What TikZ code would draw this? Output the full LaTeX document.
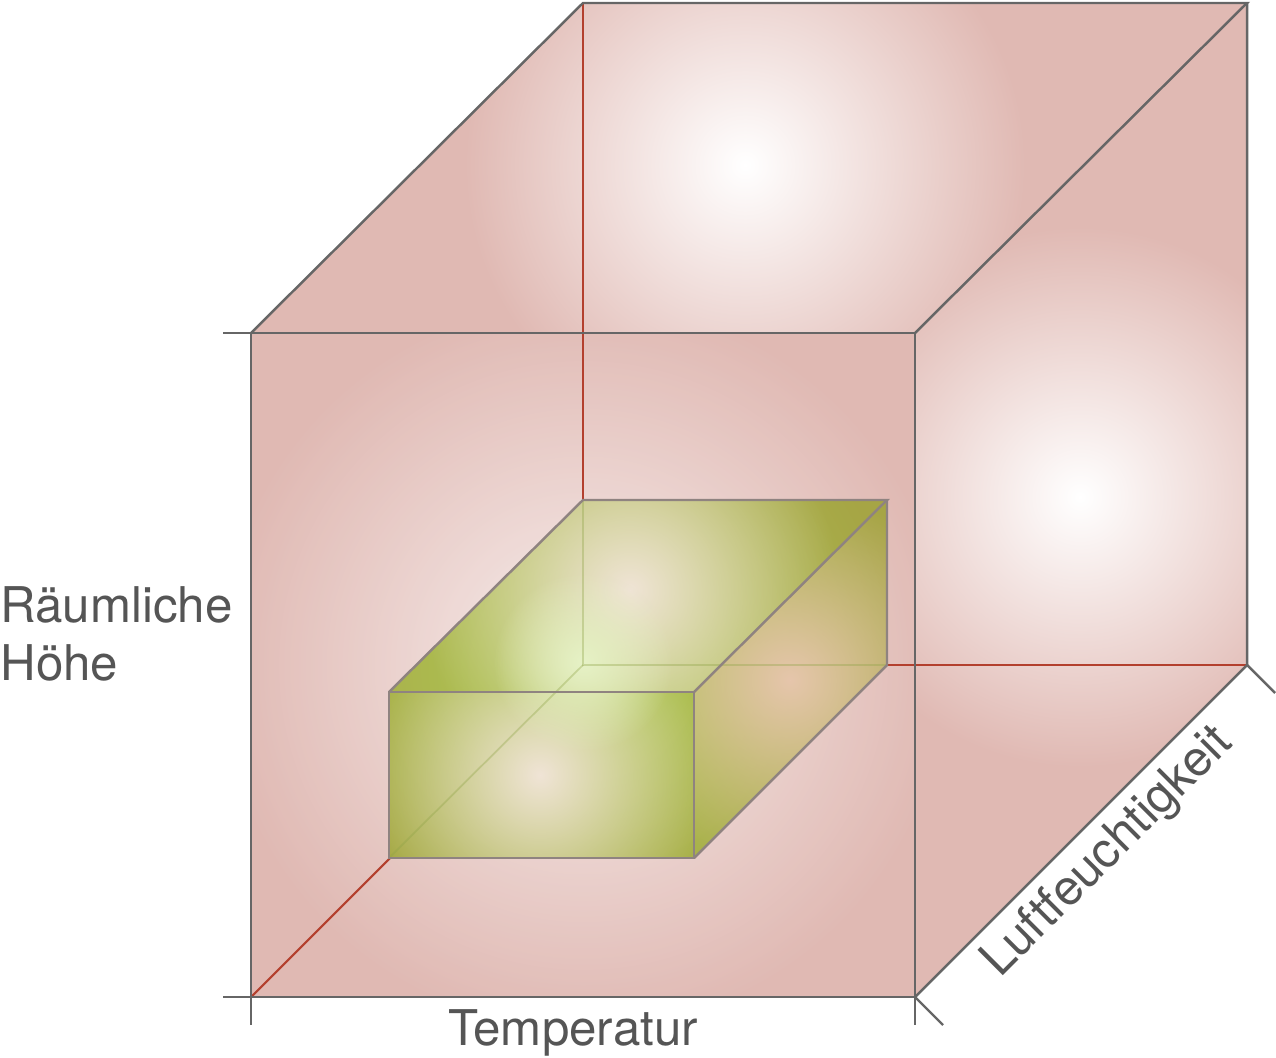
\documentclass[tikz,border=0pt]{standalone}
\usepackage{fontspec}
\setmainfont{TeX Gyre Heros}
\usetikzlibrary{fadings}
\definecolor{cubepink}{HTML}{E0B9B3}
\definecolor{cubeedge}{HTML}{666666}
\definecolor{hiddenred}{HTML}{B3402E}
\definecolor{boxolive}{HTML}{A6A545}
\definecolor{boxgreen}{HTML}{B1CC58}
\definecolor{boxcore}{HTML}{F0E4D6}
\definecolor{boxlime}{HTML}{E6F2C6}
\definecolor{boxpeach}{HTML}{E6C6AC}
\definecolor{boxline}{HTML}{8F8380}
\definecolor{labelgray}{HTML}{555555}
\tikzfading[name=glowfade, inner color=transparent!0, outer color=transparent!100]

\begin{document}
\begin{tikzpicture}[
  x=0.01cm,
  y=-0.01cm,
  every node/.style={font=\fontsize{14}{16.5}\selectfont, text=labelgray},
  cube edge/.style={draw=cubeedge, line width=0.7pt},
  hidden edge/.style={draw=hiddenred, line width=0.6pt},
  box edge/.style={draw=boxline, line width=0.7pt},
  box hidden/.style={draw=boxgreen!80!black, line width=0.5pt, opacity=0.35},
  axistick/.style={draw=cubeedge, line width=0.7pt},
  glow/.style={fill=#1, path fading=glowfade}
]
  \useasboundingbox (0,0) rectangle (1276,1058);

  % cube corners
  \coordinate (fbl) at (251,997);
  \coordinate (fbr) at (915,997);
  \coordinate (ftl) at (251,333);
  \coordinate (ftr) at (915,333);
  \coordinate (bbl) at (583,665);
  \coordinate (bbr) at (1247,665);
  \coordinate (btl) at (583,3);
  \coordinate (btr) at (1247,3);
  % box corners
  \coordinate (qbl) at (389,858);
  \coordinate (qbr) at (694,858);
  \coordinate (qtl) at (389,692);
  \coordinate (qtr) at (694,692);
  \coordinate (pbl) at (583,665);
  \coordinate (pbr) at (887,665);
  \coordinate (ptl) at (583,500);
  \coordinate (ptr) at (887,500);

  % cube body
  \fill[cubepink] (fbl) -- (ftl) -- (btl) -- (btr) -- (bbr) -- (fbr) -- cycle;
  \begin{scope}
    \clip (ftl) -- (btl) -- (btr) -- (ftr) -- cycle;
    \shade[inner color=white, outer color=cubepink] (745,165) circle (2.8cm);
  \end{scope}
  \begin{scope}
    \clip (ftr) -- (btr) -- (bbr) -- (fbr) -- cycle;
    \shade[inner color=white, outer color=cubepink] (1080,497) circle (2.7cm);
  \end{scope}
  \begin{scope}
    \clip (fbl) rectangle (ftr);
    \shade[inner color=white, outer color=cubepink, opacity=0.75] (583,665) circle (3.7cm);
  \end{scope}

  % hidden cube edges
  \draw[hidden edge] (btl) -- (bbl) -- (bbr);
  \draw[hidden edge] (bbl) -- (fbl);

  % inner box
  \fill[boxolive] (qbl) -- (qtl) -- (ptl) -- (ptr) -- (pbr) -- (qbr) -- cycle;
  \begin{scope}
    \clip (qbl) -- (qtl) -- (ptl) -- (ptr) -- (pbr) -- (qbr) -- cycle;
    \fill[glow=boxgreen] (585,665) circle (3.2cm);
  \end{scope}
  \begin{scope}
    \clip (qbl) rectangle (qtr);
    \fill[glow=boxcore] (540,775) circle (1.7cm);
  \end{scope}
  \begin{scope}
    \clip (qtl) -- (ptl) -- (ptr) -- (qtr) -- cycle;
    \fill[glow=boxcore] (630,590) circle (2.1cm);
  \end{scope}
  \begin{scope}
    \clip (qtr) -- (ptr) -- (pbr) -- (qbr) -- cycle;
    \fill[glow=boxpeach] (790,680) circle (1.9cm);
  \end{scope}
  \begin{scope}
    \clip (qbl) -- (qtl) -- (ptl) -- (ptr) -- (pbr) -- (qbr) -- cycle;
    \fill[glow=boxlime] (583,662) circle (0.9cm);
  \end{scope}
  \draw[box hidden] (ptl) -- (pbl) -- (pbr);
  \draw[box hidden] (pbl) -- (qbl);
  \draw[box edge] (qbl) rectangle (qtr);
  \draw[box edge] (qtl) -- (ptl) -- (ptr) -- (qtr);
  \draw[box edge] (ptr) -- (pbr) -- (qbr);

  % visible cube edges
  \draw[cube edge] (fbl) rectangle (ftr);
  \draw[cube edge] (ftl) -- (btl) -- (btr) -- (ftr);
  \draw[cube edge] (btr) -- (bbr) -- (fbr);

  % axis ticks
  \draw[axistick] (ftl) -- ++(-28,0);
  \draw[axistick] (fbl) -- ++(-28,0);
  \draw[axistick] (fbl) -- ++(0,28);
  \draw[axistick] (fbr) -- ++(0,28);
  \draw[axistick] (fbr) -- ++(28,28);
  \draw[axistick] (bbr) -- ++(28,28);

  % axis labels
  \node[align=left, anchor=west, inner sep=0pt] (hoehe) at (0,634) {Räumliche\\Höhe};
  \node[anchor=base, inner sep=0pt] (temperatur) at (573,1045) {Temperatur};
  \node[rotate=45, inner sep=0pt] (feuchte) at (1108,853) {Luftfeuchtigkeit};
\end{tikzpicture}
\end{document}
